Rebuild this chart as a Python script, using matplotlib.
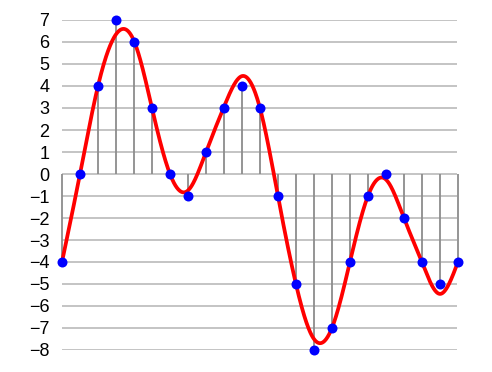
import numpy as np
import matplotlib
matplotlib.use("Agg")
import matplotlib.pyplot as plt

# Sample positions and quantized sample values (blue dots)
sample_x = list(range(23))
sample_values = [-4, 0, 4, 7, 6, 3, 0, -1, 1, 3, 4, 3, -1, -5, -8, -7, -4, -1, 0, -2, -4, -5, -4]
# Underlying continuous signal read at the sample positions (red curve)
signal_values = [-4.0, 0.0, 4.0, 6.35, 6.05, 3.0, 0.0, -0.75, 1.0, 3.05, 4.45, 3.0, -1.0,
                 -5.0, -7.5, -7.0, -4.0, -1.0, -0.25, -2.0, -4.0, -5.45, -4.0]
y_ticks = list(range(-8, 8))
y_tick_labels = [("\u2212" + str(-v)) if v < 0 else str(v) for v in y_ticks]


def natural_cubic_spline(x, y, xs):
    x = np.asarray(x, float)
    y = np.asarray(y, float)
    n = len(x)
    h = np.diff(x)
    A = np.zeros((n, n))
    b = np.zeros(n)
    A[0, 0] = 1
    A[-1, -1] = 1
    for i in range(1, n - 1):
        A[i, i - 1] = h[i - 1]
        A[i, i] = 2 * (h[i - 1] + h[i])
        A[i, i + 1] = h[i]
        b[i] = 3 * ((y[i + 1] - y[i]) / h[i] - (y[i] - y[i - 1]) / h[i - 1])
    c = np.linalg.solve(A, b)
    bb = (y[1:] - y[:-1]) / h - h * (2 * c[:-1] + c[1:]) / 3
    d = (c[1:] - c[:-1]) / (3 * h)
    idx = np.clip(np.searchsorted(x, xs) - 1, 0, n - 2)
    t = xs - x[idx]
    return y[idx] + bb[idx] * t + c[idx] * t ** 2 + d[idx] * t ** 3


W, H = 492, 372
fig = plt.figure(figsize=(W / 100, H / 100), dpi=100)
ax = fig.add_axes([62 / W, 1 - 350 / H, (457 - 62) / W, (350 - 20) / H])
ax.set_xlim(0, 21.95)
ax.set_ylim(-8, 7)

for v in y_ticks:
    ax.axhline(v, color="#c4c4c4", lw=1.4, zorder=1)

ax.vlines(sample_x, 0, sample_values, color="#8c8c8c", lw=1.3, zorder=2, clip_on=False)

xs = np.linspace(sample_x[0], sample_x[-1], 800)
ax.plot(xs, natural_cubic_spline(sample_x, signal_values, xs), color="#ff0000", lw=2.7,
        zorder=3, clip_on=False, solid_capstyle="round")
ax.plot(sample_x, sample_values, "o", color="#0000ff", markersize=7.2, zorder=4,
        clip_on=False, markeredgewidth=0)

ax.set_xticks([])
ax.set_yticks(y_ticks)
ax.set_yticklabels(y_tick_labels, fontfamily="Liberation Sans", fontsize=13)
ax.tick_params(axis="y", length=0, pad=9)
for s in ax.spines.values():
    s.set_visible(False)

fig.savefig("out.png", dpi=100)
